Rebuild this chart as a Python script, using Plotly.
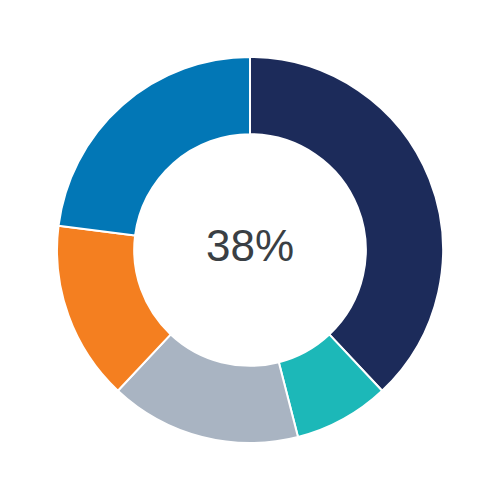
import plotly.graph_objects as go

labels = ["A", "B", "C", "D", "E"]
values = [38, 8, 16, 15, 23]
colors = ["#1c2b5a", "#1cb8b8", "#a9b4c2", "#f47f20", "#0277b6"]
center_text = "38%"

fig = go.Figure(go.Pie(
    labels=labels, values=values, hole=0.6, sort=False, direction="clockwise",
    rotation=0, textinfo="none", hoverinfo="label+percent",
    marker=dict(colors=colors, line=dict(color="white", width=2)),
    showlegend=False,
))
fig.add_annotation(text=center_text, x=0.5, y=0.5, xref="paper", yref="paper", yshift=5,
                   showarrow=False, font=dict(family="Liberation Sans, Arial", size=44, color="#3a3f44"))
fig.update_layout(width=500, height=500, margin=dict(l=49, r=65, t=49, b=65),
                  paper_bgcolor="white", plot_bgcolor="white")
fig.write_html("out.html")
